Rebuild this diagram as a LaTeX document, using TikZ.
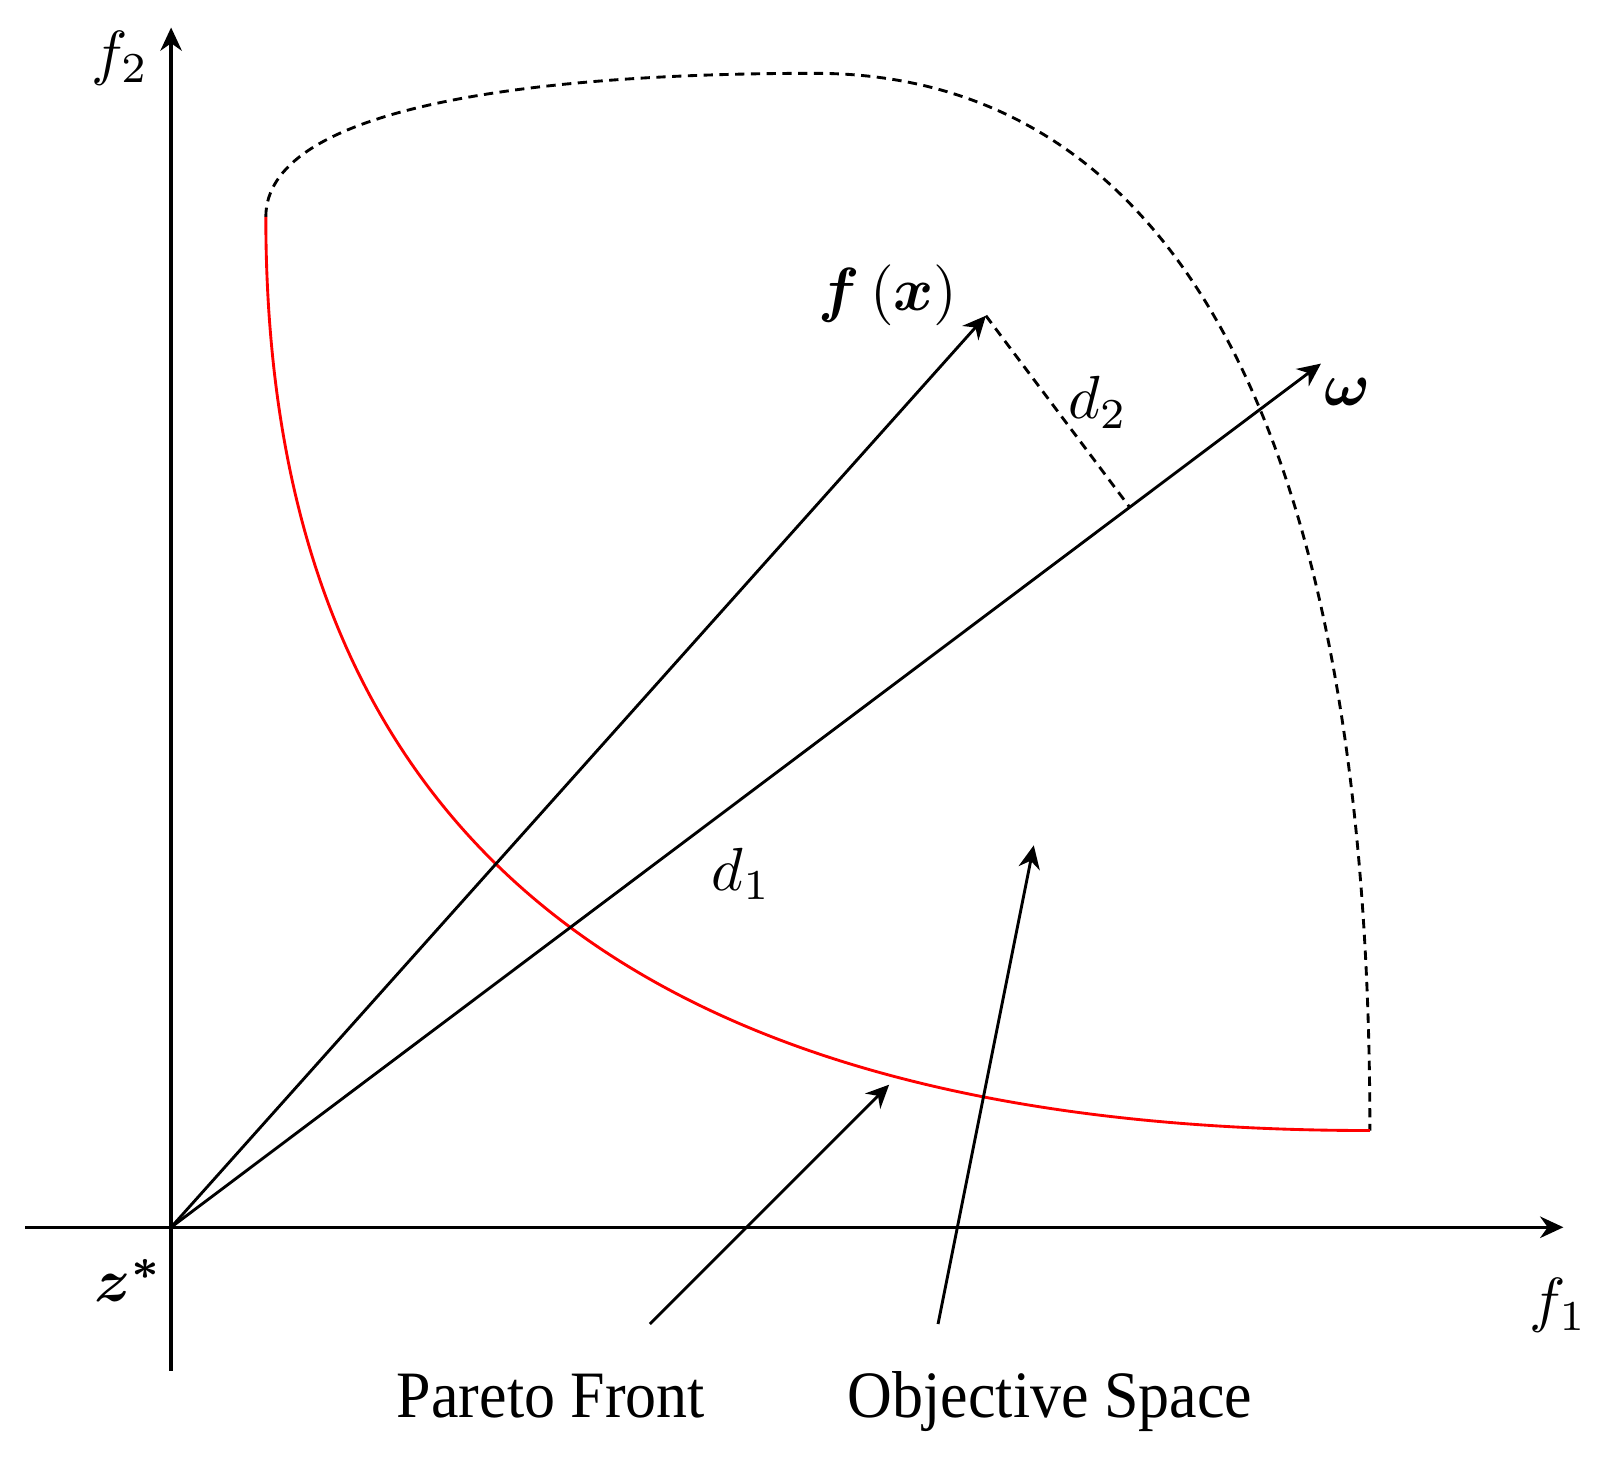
\documentclass[tikz,border=0pt]{standalone}
\usepackage{amsmath,bm}
\usepackage[no-math]{fontspec}
\newfontfamily\timesfont{Liberation Serif}
\usetikzlibrary{arrows.meta,calc}
\begin{document}
\begin{tikzpicture}[x=0.01cm,y=-0.01cm]
\tikzset{
 axis/.style={line width=0.9pt, -{Stealth[length=6.5pt,width=6pt]}},
 vec/.style={line width=0.8pt, -{Stealth[length=6.5pt,width=6pt]}},
 bound/.style={line width=0.8pt, dash pattern=on 2.6pt off 1.8pt},
 front/.style={red, line width=0.8pt},
 mlabel/.style={scale=1.7, inner sep=0pt},
 tlabel/.style={font=\timesfont, xscale=1.73, yscale=1.85, inner sep=0pt, anchor=base},
}
\useasboundingbox (0,0) rectangle (1568,1431);
% coordinates
\coordinate (O) at (168,1205);
\coordinate (Ytop) at (168,27);
\coordinate (Ybot) at (168,1346);
\coordinate (Xl) at (25,1205);
\coordinate (Xr) at (1535,1205);
\coordinate (PA) at (261,213);
\coordinate (PB) at (1345,1110);
\coordinate (Top) at (800,72);
\coordinate (FX) at (968,310);
\coordinate (W) at (1297,357);
\coordinate (Foot) at ($(O)!(FX)!(W)$);
\coordinate (PFs) at (638,1300);
\coordinate (PFt) at (873,1065);
\coordinate (OSs) at (921,1300);
\coordinate (OSt) at (1015,830);
% axes
\draw[axis] (Xl) -- (Xr);
\draw[axis] (Ybot) -- (Ytop);
% objective space boundary
\draw[bound] (PA) .. controls (261,110) and (500,72) .. (Top)
  .. controls (1100,72) and (1345,330) .. (PB);
% Pareto front
\draw[front] (PA) .. controls (261,769) and (564,1110) .. (PB);
% vectors
\draw[vec] (O) -- (FX);
\draw[vec] (O) -- (W);
\draw[bound] (FX) -- (Foot);
% pointers
\draw[vec] (PFs) -- (PFt);
\draw[vec] (OSs) -- (OSt);
% labels
\node[mlabel] (lf2) at (118,57) {$f_2$};
\node[mlabel] (lf1) at (1530,1282) {$f_1$};
\node[mlabel] (lz) at (126,1257) {$\boldsymbol{z^{*}}$};
\node[mlabel] (lfx) at (872,290) {$\boldsymbol{f}\left(\boldsymbol{x}\right)$};
\node[mlabel] (lw) at (1323,385) {$\boldsymbol{\omega}$};
\node[mlabel] (ld2) at (1078,395) {$d_2$};
\node[mlabel] (ld1) at (728,858) {$d_1$};
\node[tlabel] (tpf) at (541,1392) {Pareto Front};
\node[tlabel] (tos) at (1031,1392) {Objective Space};
\end{tikzpicture}
\end{document}
